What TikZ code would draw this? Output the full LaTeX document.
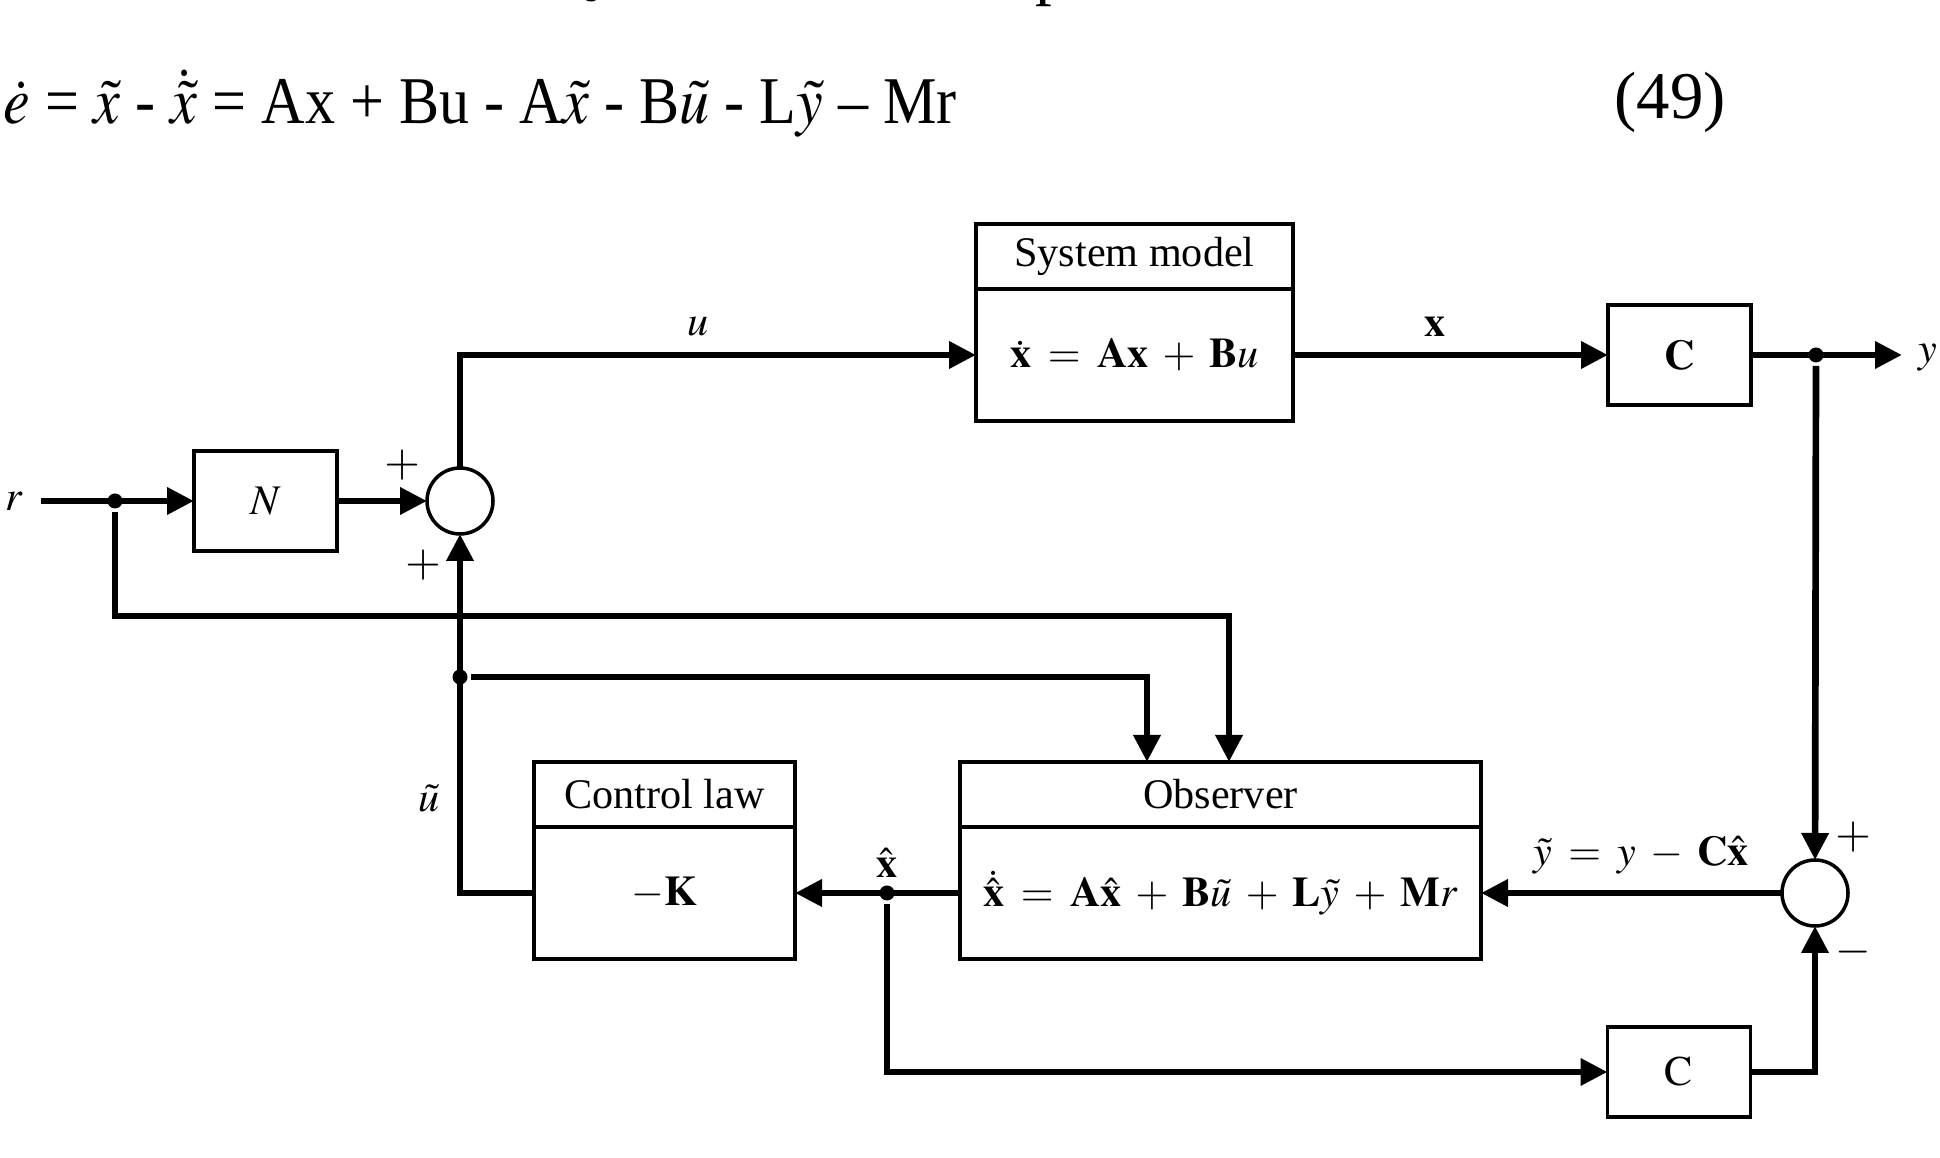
\documentclass[tikz,border=0pt]{standalone}
\usepackage{mathptmx}
\usepackage{fontspec}
\setmainfont{Liberation Serif}
\usepackage{graphicx}
\usetikzlibrary{arrows.meta}
\usetikzlibrary{positioning}
\medmuskip=6mu plus 2mu minus 2mu
\thickmuskip=7mu plus 3mu

\begin{document}
\begin{tikzpicture}[>={Triangle[length=2.7mm,width=2.6mm]},line width=1.9pt,
   blk/.style={draw,line width=1.1pt,minimum width=1.43cm,minimum height=1cm,inner sep=0pt,outer sep=0pt,font=\fontsize{12}{14}\selectfont},
   lblk/.style={blk,minimum height=1.32cm},
   tblk/.style={blk,minimum height=0.65cm},
   sumc/.style={circle,draw,line width=1pt,minimum size=0.66cm,inner sep=0pt,outer sep=0pt},
   junc/.style={circle,fill,inner sep=0pt,minimum size=0.15cm},
   lbl/.style={font=\fontsize{12}{14}\selectfont,inner sep=0pt},
   pm/.style={font=\fontsize{13}{14}\selectfont,inner sep=0pt},
   eqf/.style={font=\fontsize{19}{22}\selectfont,inner sep=0pt}]
   \useasboundingbox (0,0) rectangle (19.40,11.58);
   \node[eqf,anchor=base] (cuty) at (6.02,11.70) {y};
   \node[eqf,anchor=base] (cutp) at (10.52,11.65) {p};
   \node[eqf,anchor=base west] (eqn) at (0,10.34) {\scalebox{0.9}[1]{$\dot{e}$ = $\tilde{x}$ - $\dot{\tilde{x}}$ = Ax + Bu - A$\tilde{x}$ - B$\tilde{u}$ - L$\tilde{y}$ -- Mr}};
   \node[eqf] (eqnum) at (16.70,10.56) {(49)};

   \node[lbl] (rlab) at (0.14,6.57) {$r$};
   \coordinate (rin) at (0.41,6.57);
   \node[junc] (rdot) at (1.15,6.57) {};
   \node[blk] (N) at (2.655,6.57) {$N$};
   \node[sumc] (sum1) at (4.60,6.57) {};
   \node[pm] (plus1) at (4.02,6.93) {$+$};
   \node[pm] (plus2) at (4.23,5.93) {$+$};
   \node[lblk,minimum width=3.17cm] (sys) at (11.345,8.03) {$\dot{\mathbf{x}} = \mathbf{Ax} + \mathbf{B}u$};
   \node[tblk,minimum width=3.17cm,above=0pt of sys] (sysT) {System model};
   \node[lbl] (ulab) at (6.98,8.31) {$u$};
   \node[lbl] (xlab) at (14.35,8.31) {$\mathbf{x}$};
   \node[blk] (C1) at (16.795,8.03) {$\mathbf{C}$};
   \node[junc] (ydot) at (18.16,8.03) {};
   \coordinate (yout) at (19.02,8.03);
   \node[lbl] (ylab) at (19.28,8.0) {$y$};

   \node[sumc] (sum2) at (18.15,2.65) {};
   \node[pm] (plus3) at (18.53,3.21) {$+$};
   \node[pm] (minus1) at (18.53,2.06) {$-$};
   \node[lblk,minimum width=5.21cm] (obs) at (12.205,2.65) {$\dot{\hat{\mathbf{x}}} = \mathbf{A}\hat{\mathbf{x}} + \mathbf{B}\tilde{u} + \mathbf{L}\tilde{y} + \mathbf{M}r$};
   \node[tblk,minimum width=5.21cm,above=0pt of obs] (obsT) {Observer};
   \node[lbl] (ytlab) at (16.41,3.03) {$\tilde{y} = y - \mathbf{C}\hat{\mathbf{x}}$};
   \node[lblk,minimum width=2.61cm] (ctl) at (6.645,2.65) {$-\mathbf{K}$};
   \node[tblk,minimum width=2.61cm,above=0pt of ctl] (ctlT) {Control law};
   \node[junc] (xdot) at (8.87,2.65) {};
   \node[lbl] (xhlab) at (8.87,2.95) {$\hat{\mathbf{x}}$};
   \node[junc] (udot) at (4.60,4.81) {};
   \node[lbl] (utlab) at (4.29,3.60) {$\tilde{u}$};
   \coordinate (rbend) at (1.15,5.42);
   \node[blk,minimum height=0.9cm] (C2) at (16.79,0.86) {$\mathrm{C}$};

   \draw[->] (rin) -- (N);
   \draw[->] (N) -- (sum1);
   \draw[->] (sum1) |- (sys);
   \draw[->] (sys) -- (C1);
   \draw[->] (C1) -- (yout);
   \draw[->] (ydot) -- (sum2);
   \draw[->] (sum2) -- (obs);
   \draw[->] (obs) -- (ctl);
   \draw[->] (ctl) -| (sum1);
   \draw[->] (udot) -| ([xshift=-0.735cm]obsT.north);
   \draw[->] (rdot) -- (rbend) -| ([xshift=0.085cm]obsT.north);
   \draw[->] (xdot) |- (C2);
   \draw[->] (C2) -| (sum2);
\end{tikzpicture}
\end{document}
